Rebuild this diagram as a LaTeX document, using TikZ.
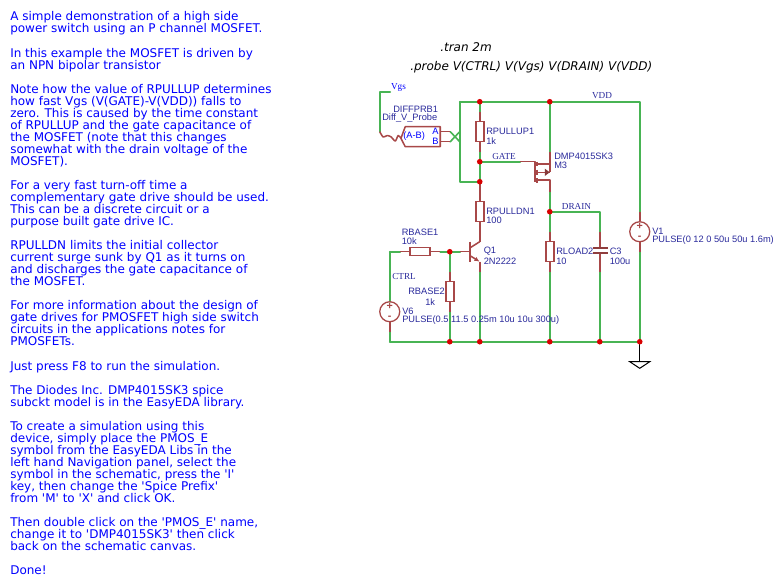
\documentclass[tikz,border=0pt]{standalone}
\usepackage{fontspec}
\usetikzlibrary{arrows.meta}
\newfontfamily\notefont{DejaVu Sans}
\newfontfamily\cmdfont{DejaVu Sans Oblique}
\newfontfamily\partfont{Liberation Sans}
\newfontfamily\netfont{Liberation Serif}
\definecolor{wirec}{HTML}{48B454}
\definecolor{partc}{HTML}{A84848}
\definecolor{dotc}{HTML}{D80000}
\definecolor{labc}{HTML}{2A2A9C}
\tikzset{
  x=.75pt,y=-.75pt,
  wire/.style={draw=wirec,line width=1.2pt,line cap=round,line join=round},
  part/.style={draw=partc,line width=1.15pt,line join=round},
  dot/.style={circle,fill=dotc,inner sep=0,minimum size=4.2pt},
  resv/.style={rectangle,draw=partc,line width=1.15pt,inner sep=0,minimum width=6pt,minimum height=15pt},
  resh/.style={rectangle,draw=partc,line width=1.15pt,inner sep=0,minimum width=15pt,minimum height=6pt},
  src/.style={circle,draw=partc,line width=.95pt,inner sep=0,minimum size=15pt},
  lab/.style={font=\partfont\fontsize{6.95}{7}\selectfont,text=labc,anchor=west,inner sep=0},
  netl/.style={font=\netfont\fontsize{6.9}{7}\selectfont,text=labc,anchor=center,inner sep=0},
  cmd/.style={font=\cmdfont\fontsize{9}{9}\selectfont,text=black,anchor=west,inner sep=0},
  note/.style={font=\notefont\fontsize{9}{9.03}\selectfont,text=blue,anchor=north west,align=left,inner sep=0},
  sign/.style={font=\partfont\bfseries\fontsize{8}{8}\selectfont,text=partc,inner sep=0},
}
\begin{document}
\begin{tikzpicture}
\useasboundingbox[fill=white] (0,0) rectangle (784,587);
% notes
\node[note] (notes) at (10,11.5) {A simple demonstration of a high side\\
power switch using an P channel MOSFET.\\ ~\\
In this example the MOSFET is driven by\\
an NPN bipolar transistor\\ ~\\
Note how the value of RPULLUP determines\\
how fast Vgs (V(GATE)-V(VDD)) falls to\\
zero. This is caused by the time constant\\
of RPULLUP and the gate capacitance of\\
the MOSFET (note that this changes\\
somewhat with the drain voltage of the\\
MOSFET).\\ ~\\
For a very fast turn-off time a\\
complementary gate drive should be used.\\
This can be a discrete circuit or a\\
purpose built gate drive IC.\\ ~\\
RPULLDN limits the initial collector\\
current surge sunk by Q1 as it turns on\\
and discharges the gate capacitance of\\
the MOSFET.\\ ~\\
For more information about the design of\\
gate drives for PMOSFET high side switch\\
circuits in the applications notes for\\
PMOSFETs.\\ ~\\
Just press F8 to run the simulation.\\ ~\\
The Diodes Inc. DMP4015SK3 spice\\
subckt model is in the EasyEDA library.\\ ~\\
To create a simulation using this\\
device, simply place the PMOS\_E\\
symbol from the EasyEDA Libs in the\\
left hand Navigation panel, select the\\
symbol in the schematic, press the 'I'\\
key, then change the 'Spice Prefix'\\
from 'M' to 'X' and click OK.\\ ~\\
Then double click on the 'PMOS\_E' name,\\
change it to 'DMP4015SK3' then click\\
back on the schematic canvas.\\ ~\\
Done!};
\node[cmd] (tran) at (440,47.5) {.tran 2m};
\node[cmd] (probe) at (410,67.5) {.probe V(CTRL) V(Vgs) V(DRAIN) V(VDD)};

\begin{scope}[xshift=.18pt]
% grid points
\coordinate (tl) at (459.5,101.7);
\coordinate (tr) at (639.5,101.7);
\coordinate (xt) at (459.5,131.7);
\coordinate (xb) at (459.5,141.7);
\coordinate (bl) at (459.5,181.7);
\coordinate (vgsa) at (390,91.7);
\coordinate (vgsb) at (379.5,91.7);
\coordinate (vgsc) at (379.5,131.7);
\coordinate (blc) at (389.5,341.7);
\coordinate (ctlb) at (389.5,251.7);
\coordinate (drt) at (599.5,211.7);
\coordinate (gnd) at (639.5,361.7);
% parts
\node[resv] (rup) at (479.5,131.7) {};
\node[resv] (rdn) at (479.5,211.7) {};
\node[resv] (rload) at (549.5,251.7) {};
\node[resv] (rb2) at (449.5,291.7) {};
\node[resh] (rb1) at (420,251.7) {};
\node[src] (v1) at (639.5,231.7) {};
\node[src] (v6) at (389.5,311.7) {};
\node[sign] (v1p) at (639.5,226.3) {+};
\node[sign] (v1m) at (639.5,237.3) {-};
\node[sign] (v6p) at (389.5,306.3) {+};
\node[sign] (v6m) at (389.5,317.3) {-};
% junction positions
\coordinate (j1) at (479.5,101.7);
\coordinate (j2) at (479.5,161.7);
\coordinate (j3) at (479.5,181.7);
\coordinate (j4) at (549.5,101.7);
\coordinate (j5) at (549.5,211.7);
\coordinate (j6) at (449.5,251.7);
\coordinate (j7) at (449.5,341.7);
\coordinate (j8) at (479.5,341.7);
\coordinate (j9) at (549.5,341.7);
\coordinate (j10) at (599.5,341.7);
\coordinate (j11) at (639.5,341.7);
% pin ends
\coordinate (rupa) at (479.5,111.7); \coordinate (rupb) at (479.5,151.7);
\coordinate (rdna) at (479.5,191.7); \coordinate (rdnb) at (479.5,241.7);
\coordinate (rla) at (549.5,231.7); \coordinate (rlb) at (549.5,271.7);
\coordinate (rb2a) at (449.5,271.7); \coordinate (rb2b) at (449.5,311.7);
\coordinate (rb1a) at (400,251.7); \coordinate (rb1b) at (440,251.7);
\coordinate (v1a) at (639.5,211.7); \coordinate (v1b) at (639.5,251.7);
\coordinate (v6a) at (389.5,301.7); \coordinate (v6b) at (389.5,331.7);
\coordinate (c3a) at (599.5,231.7); \coordinate (c3b) at (599.5,271.7);
\coordinate (c3p) at (599.5,248.4); \coordinate (c3q) at (599.5,252.8);
% wires
\draw[wire] (j1) -- (rupa);
\draw[wire] (tl) -- (j1) -- (j4) -- (tr) -- (v1a);
\draw[wire] (v1b) -- (j11);
\draw[wire] (tl) -- (bl) -- (j3);
\draw[wire] (j2) -- (j3);
\draw[wire] (rupb) -- (j2);
\draw[wire] (j2) -- (520,161.7);
\draw[wire] (j4) -- (549.5,151.7);
\draw[wire] (549.5,191.7) -- (j5) -- (rla);
\draw[wire] (j5) -- (drt) -- (c3a);
\draw[wire] (rlb) -- (j9);
\draw[wire] (c3b) -- (j10);
\draw[wire] (blc) -- (j7) -- (j8) -- (j9) -- (j10) -- (j11);
\draw[wire] (v6b) -- (blc);
\draw[wire] (ctlb) -- (v6a);
\draw[wire] (ctlb) -- (rb1a);
\draw[wire] (rb1b) -- (j6) -- (460,251.7);
\draw[wire] (j6) -- (rb2a);
\draw[wire] (rb2b) -- (j7);
\draw[wire] (479.5,271.7) -- (j8);
\draw[wire] (vgsa) -- (vgsb) -- (vgsc);
\draw[wire] (450,131.7) -- (xb);
\draw[wire] (450,141.7) -- (xt);
% part leads
\draw[part] (rupa) -- (rup.north); \draw[part] (rup.south) -- (rupb);
\draw[part] (j3) -- (rdn.north); \draw[part] (rdn.south) -- (rdnb);
\draw[part] (rla) -- (rload.north); \draw[part] (rload.south) -- (rlb);
\draw[part] (rb2a) -- (rb2.north); \draw[part] (rb2.south) -- (rb2b);
\draw[part] (rb1a) -- (rb1.west); \draw[part] (rb1.east) -- (rb1b);
\draw[part] (v1a) -- (v1.north); \draw[part] (v1.south) -- (v1b);
\draw[part] (v6a) -- (v6.north); \draw[part] (v6.south) -- (v6b);
\draw[part] (c3a) -- (c3p); \draw[part] (c3q) -- (c3b);
\draw[partc!85!black,line width=1.5pt] (592.3,248.4) -- (607.3,248.4);
\draw[partc!85!black,line width=1.5pt] (592.3,252.8) -- (607.3,252.8);
% NPN
\draw[part] (460,251.7) -- (469.5,251.7);
\draw[partc,line width=1.15pt] (469.5,241.7) -- (469.5,262);
\draw[part] (469.5,248) -- (rdnb);
\draw[part,-{Latex[length=4pt,width=3.4pt]}] (469.5,255.5) -- (479.5,261.7);
\draw[part] (479.5,261.7) -- (479.5,271.7);
% PMOS
\draw[part] (520,161.7) -- (534.5,161.7) -- (534.5,181.7);
\draw[part] (537,161.5) -- (537,166);
\draw[part] (537,169.5) -- (537,175);
\draw[part] (537,178) -- (537,183);
\draw[part] (537,164) -- (549.5,164);
\draw[part] (549.5,151.7) -- (549.5,172.3);
\draw[part] (537,172.3) -- (549.5,172.3);
\draw[part] (537,180) -- (549.5,180) -- (549.5,191.7);
\fill[partc!80!black] (549.5,172.3) -- (544.5,168.6) -- (544.5,176) -- cycle;
% probe
\draw[part] (405,126.7) -- (440,126.7) -- (440,146.7) -- (405,146.7) -- (400.7,138.3) -- cycle;
\draw[part] (440,131.7) -- (450,131.7);
\draw[part] (440,141.7) -- (450,141.7);
\draw[part] plot[smooth,tension=.5] coordinates {(vgsc) (383,137) (387,135.5) (391,137) (395,141) (398,135.5) (400.7,138.3)};
% ground
\draw[black,line width=.75pt] (j11) -- (gnd);
\draw[black,line width=.75pt] (629.5,361.7) -- (649.5,361.7) -- (639.5,368.3) -- cycle;
% junction dots, on top of the wires
\node[dot] (d1) at (j1) {};
\node[dot] (d2) at (j2) {};
\node[dot] (d3) at (j3) {};
\node[dot] (d4) at (j4) {};
\node[dot] (d5) at (j5) {};
\node[dot] (d6) at (j6) {};
\node[dot] (d7) at (j7) {};
\node[dot] (d8) at (j8) {};
\node[dot] (d9) at (j9) {};
\node[dot] (d10) at (j10) {};
\node[dot] (d11) at (j11) {};
\end{scope}
% labels
\node[netl,text=blue] (lvgs) at (398.5,87) {Vgs};
\node[netl] (lvdd) at (602,96) {VDD};
\node[netl] (lgate) at (504,156) {GATE};
\node[netl] (ldrain) at (576.5,206) {DRAIN};
\node[netl] (lctrl) at (404,276.5) {CTRL};
\node[lab] (a1) at (393,109) {DIFFPRB1};
\node[lab] (a2) at (382,118.5) {Diff\_V\_Probe};
\node[lab,text=blue] (a3) at (403,136.5) {(A-B)};
\node[lab,text=blue] (a4) at (432,131.5) {A};
\node[lab,text=blue] (a5) at (432,141.5) {B};
\node[lab] (b1) at (486,131.5) {RPULLUP1};
\node[lab] (b2) at (486,141) {1k};
\node[lab] (b3) at (554,156) {DMP4015SK3};
\node[lab] (b4) at (554,165.5) {M3};
\node[lab] (b5) at (486,211.5) {RPULLDN1};
\node[lab] (b6) at (486,220.5) {100};
\node[lab] (b7) at (401.5,232) {RBASE1};
\node[lab] (b8) at (401.5,241.5) {10k};
\node[lab] (b9) at (483.5,251.5) {Q1};
\node[lab] (b10) at (483.5,261) {2N2222};
\node[lab] (b11) at (408,291.5) {RBASE2};
\node[lab] (b12) at (425,302) {1k};
\node[lab] (b13) at (402,311) {V6};
\node[lab] (b14) at (402,320.5) {PULSE(0.5 11.5 0.25m 10u 10u 300u)};
\node[lab] (b15) at (556,251.5) {RLOAD2};
\node[lab] (b16) at (556,261) {10};
\node[lab] (b17) at (609.5,251.5) {C3};
\node[lab] (b18) at (609.5,261) {100u};
\node[lab] (b19) at (652,231.5) {V1};
\node[lab] (b20) at (652,240.5) {PULSE(0 12 0 50u 50u 1.6m)};
\end{tikzpicture}
\end{document}
